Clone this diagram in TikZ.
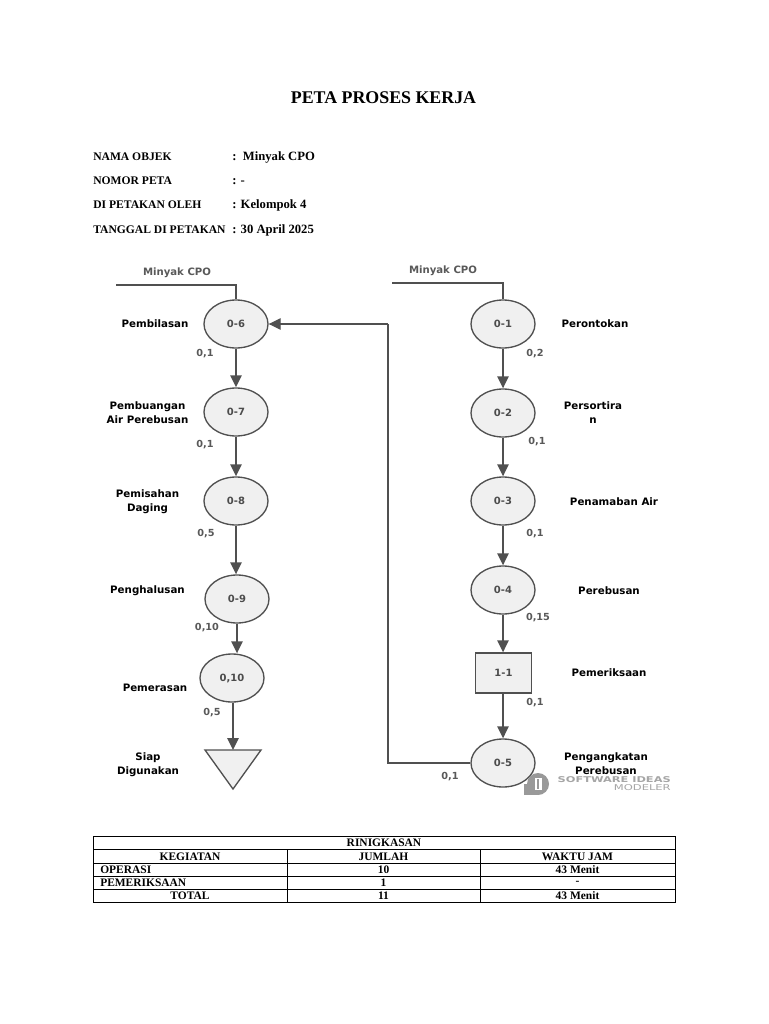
\documentclass[tikz,border=0pt]{standalone}
\usepackage{fontspec}
\usepackage{graphicx}
\setmainfont{Liberation Serif}
\newfontfamily\lab{DejaVu Sans}
\usetikzlibrary{arrows.meta,shapes.geometric}
\definecolor{ln}{HTML}{505050}
\definecolor{fillc}{HTML}{F0F0F0}
\tikzset{
 procnode/.style={ellipse,draw=ln,line width=1pt,fill=fillc,minimum width=48pt,minimum height=36pt,inner sep=0pt,font=\lab\bfseries\fontsize{7.5}{8}\selectfont,text=black!70},
 inspnode/.style={rectangle,draw=ln,line width=1pt,fill=fillc,minimum width=42pt,minimum height=30pt,inner sep=0pt,font=\lab\bfseries\fontsize{7.5}{8}\selectfont,text=black!70},
 arrline/.style={draw=ln,line width=1.4pt,-{Triangle[length=9pt,width=8.5pt]}},
 thinline/.style={draw=ln,line width=.8pt},
 steplabel/.style={font=\lab\bfseries\fontsize{7.7}{10}\selectfont,align=center,text=black,inner sep=0pt,yshift=-.5pt},
 timelabel/.style={font=\lab\bfseries\fontsize{7.3}{8}\selectfont,text=black!65,inner sep=0pt,yshift=-.6pt},
 srclabel/.style={font=\lab\bfseries\fontsize{7.6}{8}\selectfont,text=black!65,inner sep=0pt,yshift=-.8pt},
 headtext/.style={font=\bfseries\fontsize{8.7}{11}\selectfont,anchor=base west,inner sep=0pt},
 valtext/.style={font=\bfseries\fontsize{9.5}{11}\selectfont,anchor=base west,inner sep=0pt},
 celltext/.style={font=\bfseries\fontsize{8.6}{10}\selectfont,inner sep=0pt},
 gridline/.style={draw=black,line width=.7pt},
 wmark/.style={text=black!35,inner sep=0pt,anchor=east}
}
\begin{document}
\begin{tikzpicture}[x=.75pt,y=-.75pt]
\useasboundingbox (0,0) rectangle (768,1024);
\fill[white] (0,0) rectangle (768,1024);
\node[font=\bfseries\fontsize{13.4}{15}\selectfont,inner sep=0pt] (title) at (383.5,97.5) {PETA PROSES KERJA};
\node[headtext] (h1) at (93,160) {NAMA OBJEK};
\node[valtext] (v1) at (232,160) {:\, Minyak CPO};
\node[headtext] (h2) at (93,184) {NOMOR PETA};
\node[valtext] (v2) at (232,184) {: -};
\node[headtext] (h3) at (93,208) {DI PETAKAN OLEH};
\node[valtext] (v3) at (232,208) {: Kelompok 4};
\node[headtext] (h4) at (93,233) {TANGGAL DI PETAKAN};
\node[valtext] (v4) at (232,233) {: 30 April 2025};

% left column
\node[procnode] (o6) at (236,324) {0-6};
\node[procnode] (o7) at (236,412) {0-7};
\node[procnode] (o8) at (236,501) {0-8};
\node[procnode] (o9) at (237,599) {0-9};
\node[procnode] (o10) at (232,678) {0,10};
\path[draw=ln,line width=1pt,fill=fillc] (205,750) coordinate (ta) -- (261,750) coordinate (tb) -- (233,789) coordinate (tc) -- cycle;
\coordinate (tt) at (233,750);
% right column
\node[procnode] (o1) at (503,324) {0-1};
\node[procnode] (o2) at (503,413) {0-2};
\node[procnode] (o3) at (503,501) {0-3};
\node[procnode] (o4) at (503,590) {0-4};
\node[inspnode] (i1) at (503.5,673) {1-1};
\node[procnode] (o5) at (503,763) {0-5};

\coordinate (s1) at (116,285); \coordinate (s1b) at (236,285);
\coordinate (s2) at (392,283); \coordinate (s2b) at (503,283);
\coordinate (r1) at (388,763); \coordinate (r2) at (388,324);
\draw[thinline] (s1) -- (s1b) -- (o6.north);
\draw[thinline] (s2) -- (s2b) -- (o1.north);
\draw[arrline] (o6) -- (o7);
\draw[arrline] (o7) -- (o8);
\draw[arrline] (o8) -- (o8 |- o9.north);
\draw[arrline] (o9) -- (o9 |- o10.north);
\draw[arrline] (o10.south -| tt) -- (tt);
\draw[arrline] (o1) -- (o2);
\draw[arrline] (o2) -- (o3);
\draw[arrline] (o3) -- (o4);
\draw[arrline] (o4) -- (o4 |- i1.north);
\draw[arrline] (o5 |- i1.south) -- (o5);
\draw[thinline] (o5.west) -- (r1) -- (r2);
\draw[arrline,line width=1pt] (r2) -- (o6.east);

\node[srclabel] (m1) at (177,272) {Minyak CPO};
\node[srclabel] (m2) at (443,270) {Minyak CPO};
\node[steplabel] (n6) at (155,323) {Pembilasan};
\node[steplabel] (n7) at (147.5,412) {Pembuangan\\Air Perebusan};
\node[steplabel] (n8) at (147.5,501) {Pemisahan\\Daging};
\node[steplabel] (n9) at (147.5,590) {Penghalusan};
\node[steplabel] (n10) at (155,687) {Pemerasan};
\node[steplabel] (n11) at (148,764) {Siap\\Digunakan};
\node[steplabel] (n1) at (595,323) {Perontokan};
\node[steplabel] (n2) at (593,412) {Persortira\\n};
\node[steplabel] (n3) at (614,501) {Penamaban Air};
\node[steplabel] (n4) at (609,590) {Perebusan};
\node[steplabel] (n5) at (609,672) {Pemeriksaan};
\node[steplabel] (n12) at (606,763) {Pengangkatan\\Perebusan};

\node[timelabel] (t1) at (205,353) {0,1};
\node[timelabel] (t2) at (205,444) {0,1};
\node[timelabel] (t3) at (206,533) {0,5};
\node[timelabel] (t4) at (207,627) {0,10};
\node[timelabel] (t5) at (212,712) {0,5};
\node[timelabel] (t6) at (535,353) {0,2};
\node[timelabel] (t7) at (537,441) {0,1};
\node[timelabel] (t8) at (535,533) {0,1};
\node[timelabel] (t9) at (538,617) {0,15};
\node[timelabel] (t10) at (535,702) {0,1};
\node[timelabel] (t11) at (450,776) {0,1};

% watermark
\fill[black!40] (538,773) arc (-90:90:11) -- cycle;
\fill[black!40] (538,773) arc (-90:-180:11) -- (538,784) -- cycle;
\fill[black!40] (524,784) rectangle (538,795);
\fill[white] (534.5,778) rectangle (541.5,790);
\fill[black!40] (537,779) rectangle (539,789);
\node[wmark,font=\lab\bfseries\fontsize{6}{7}\selectfont] (w1) at (671,780) {\scalebox{1.42}[1]{SOFTWARE IDEAS}};
\node[wmark,font=\lab\fontsize{6}{7}\selectfont] (w2) at (671,787.5) {\scalebox{1.44}[1]{MODELER}};

% table
\draw[gridline] (93,836) rectangle (675,902.5);
\draw[gridline] (93,849.5) -- (675,849.5);
\draw[gridline] (93,863) -- (675,863);
\draw[gridline,line width=.9pt] (93,876.5) -- (675,876.5);
\draw[gridline] (93,889.5) -- (675,889.5);
\draw[gridline] (287,849.5) -- (287,902.5);
\draw[gridline] (480,849.5) -- (480,902.5);
\node[celltext] (c0) at (384,843) {RINIGKASAN};
\node[celltext] (c1) at (190,856.5) {KEGIATAN};
\node[celltext] (c2) at (383.5,856.5) {JUMLAH};
\node[celltext] (c3) at (577.5,856.5) {WAKTU JAM};
\node[celltext,anchor=west] (c4) at (100,869.5) {OPERASI};
\node[celltext] (c5) at (383.5,869.5) {10};
\node[celltext] (c6) at (577.5,869.5) {43 Menit};
\node[celltext,anchor=west] (c7) at (100,883) {PEMERIKSAAN};
\node[celltext] (c8) at (383.5,883) {1};
\node[celltext] (c9) at (577.5,883) {-};
\node[celltext] (c10) at (190,896) {TOTAL};
\node[celltext] (c11) at (383.5,896) {11};
\node[celltext] (c12) at (577.5,896) {43 Menit};
\end{tikzpicture}
\end{document}
